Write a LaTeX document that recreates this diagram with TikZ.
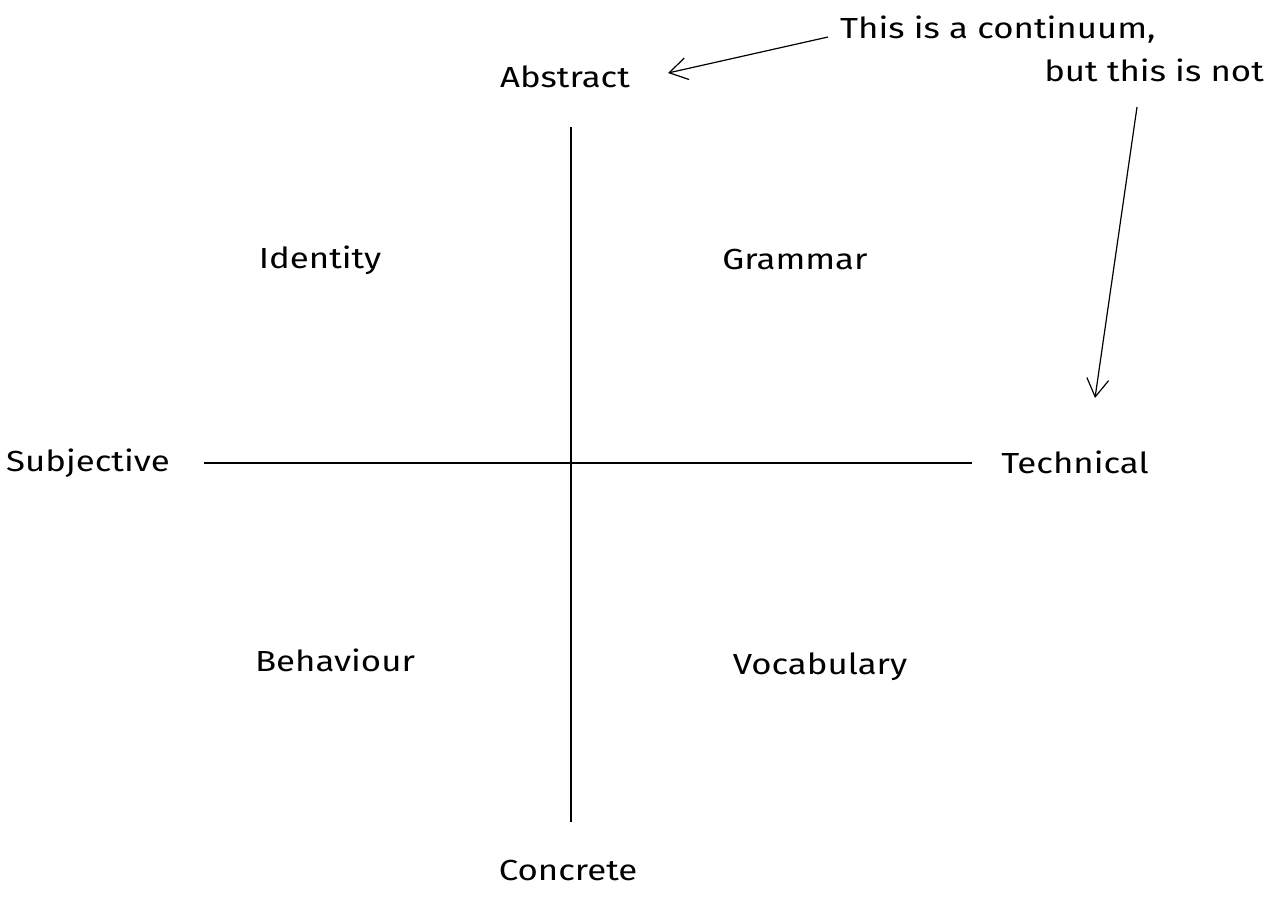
\documentclass[tikz,border=0pt]{standalone}
\usepackage{fontspec}
\usepackage{graphicx}
\setmainfont{Fira Sans}
\usetikzlibrary{arrows.meta}
\newcommand{\wtxt}[1]{\scalebox{1.2}[1]{#1}}
\begin{document}
\begin{tikzpicture}[x=1pt,y=-1pt,
  lbl/.style={font=\fontsize{29}{34}\selectfont, inner sep=0pt, anchor=center},
  axis/.style={line width=1.1pt, black},
  note/.style={line width=1.2pt, black, -{Straight Barb[length=18pt, width=22pt, line width=1.2pt]}}]
\useasboundingbox (0,0) rectangle (1277,900);
\coordinate (vtop) at (571,127);
\coordinate (vbot) at (571,822);
\coordinate (hl) at (204,463);
\coordinate (hr) at (972,463);
\draw[axis] (vtop) -- (vbot);
\draw[axis] (hl) -- (hr);
\node[lbl] (abstract) at (565,77) {\wtxt{Abstract}};
\node[lbl] (concrete) at (568,870) {\wtxt{Concrete}};
\node[lbl] (subjective) at (88,463) {\wtxt{Subjective}};
\node[lbl] (technical) at (1075,462) {\wtxt{Technical}};
\node[lbl] (identity) at (320,260) {\wtxt{Identity}};
\node[lbl] (grammar) at (795,260) {\wtxt{Grammar}};
\node[lbl] (behaviour) at (335,660) {\wtxt{Behaviour}};
\node[lbl] (vocabulary) at (820,667) {\wtxt{Vocabulary}};
\node[lbl, anchor=west] (cont1) at (840,30) {\wtxt{This is a continuum,}};
\node[lbl, anchor=east] (cont2) at (1264,70) {\wtxt{but this is not}};
\coordinate (a1s) at (828,37);
\coordinate (a1e) at (668,73);
\coordinate (a2s) at (1137,107);
\coordinate (a2e) at (1095,398);
\draw[note] (a1s) -- (a1e);
\draw[note] (a2s) -- (a2e);
\end{tikzpicture}
\end{document}
